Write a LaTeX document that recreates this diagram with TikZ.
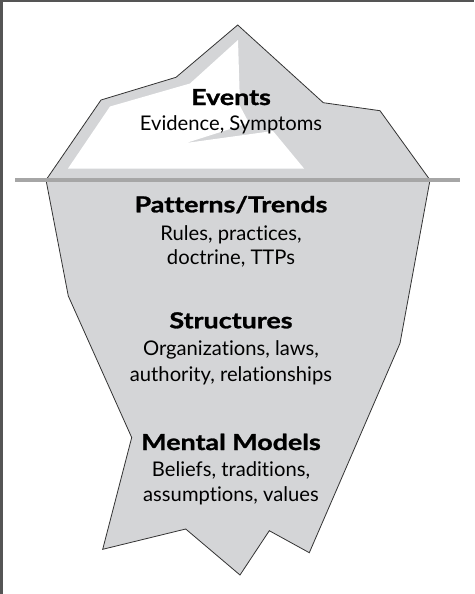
\documentclass[tikz,border=0pt]{standalone}
\usepackage{fontspec}
\setmainfont{Lato}[Ligatures={NoCommon}]
\newfontfamily\titlefont{Lato}[Ligatures={NoCommon},BoldFeatures={FakeStretch=1.22,FakeBold=1.2}]
\definecolor{icegray}{HTML}{D4D5D7}
\definecolor{waterline}{HTML}{A6A6A6}
\definecolor{edgeline}{HTML}{333333}
\definecolor{framegray}{HTML}{555555}
\begin{document}
\begin{tikzpicture}[x=1pt,y=-1pt,
  title/.style={anchor=base,inner sep=0pt,font=\titlefont\fontsize{22}{22}\selectfont\bfseries},
  body/.style={anchor=base,inner sep=0pt,font=\fontsize{20.2}{20}\selectfont}]
\useasboundingbox (0,0) rectangle (474,594);
\fill[white] (0,0) rectangle (474,594);
% iceberg body
\draw[fill=icegray,draw=edgeline,line width=0.8pt,line join=miter]
  (46,180) -- (101,100) -- (176,77.3) -- (237.7,25) -- (323.3,102.7) -- (380,110.7)
  -- (430,180) -- (400,343.3) -- (309.3,552.7) -- (269.3,530.7) -- (240,575)
  -- (185.7,529) -- (102.7,549.3) -- (131.7,437.5) -- (68.3,296) -- cycle;
% white highlight on the tip
\fill[white] (238,40) -- (240,106) -- (249,123) -- (186,143) -- (273,131)
  -- (304,168.5) -- (68,168.5) -- (110,106.5) -- (190,83.5) -- cycle;
% waterline
\draw[waterline,line width=3.5pt] (15,180) -- (460,180);
% frame edges
\draw[framegray,line width=2.5pt] (1.25,594) -- (1.25,0.75) -- (474,0.75);
% texts
\node[title] (ev) at (231,105) {Events};
\node[body] (evd) at (231,130.7) {Evidence, Symptoms};
\node[title] (pt) at (231,212.3) {Patterns/Trends};
\node[body] (pt1) at (231,240) {Rules, practices,};
\node[body] (pt2) at (231,264) {doctrine, TTPs};
\node[title] (st) at (231,328.3) {Structures};
\node[body] (st1) at (231,355) {Organizations, laws,};
\node[body] (st2) at (231,381.7) {authority, relationships};
\node[title] (mm) at (231,450) {Mental Models};
\node[body] (mm1) at (231,476.7) {Beliefs, traditions,};
\node[body] (mm2) at (231,501.7) {assumptions, values};
\end{tikzpicture}
\end{document}
